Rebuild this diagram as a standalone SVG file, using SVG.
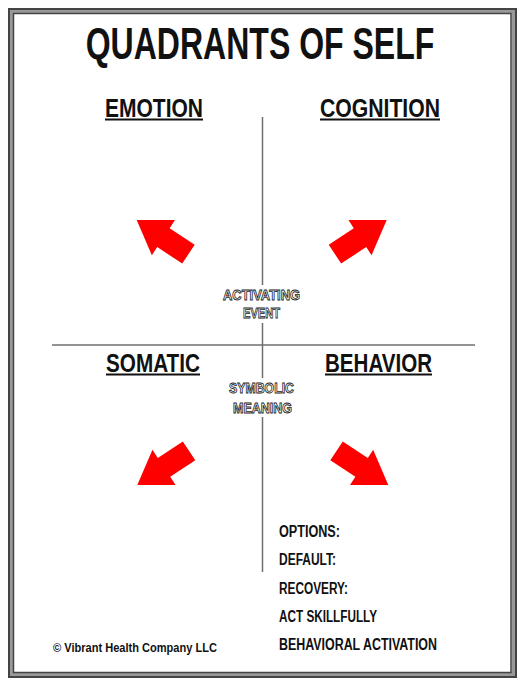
<svg xmlns="http://www.w3.org/2000/svg" width="524" height="685" viewBox="0 0 524 685">
<style>
.t{font-family:"Liberation Sans",Arial,sans-serif;font-weight:bold;fill:#111}
.h{font-size:26px}
.u{stroke:#111;stroke-width:2}
.hol{font-family:"Liberation Sans",Arial,sans-serif;font-weight:bold;font-size:15px;fill:#fff;stroke:#222;stroke-width:0.9}
.ln{stroke:#6f6f6f;stroke-width:1.5;fill:none}
.b{font-size:16px}
.arr{fill:#ff0000}
</style>
<defs>
<polygon id="arrow" points="0,0 -32,-21 -32,-11.3 -62,-11.3 -62,11.3 -32,11.3 -32,21"/>
</defs>
<rect width="524" height="685" fill="#fff"/>
<g id="frame">
<rect x="11" y="11" width="503" height="664" fill="none" stroke="#999" stroke-width="5"/>
<rect x="9" y="9" width="507" height="668" fill="none" stroke="#444" stroke-width="2"/>
<rect x="13.5" y="13.5" width="497.5" height="659" fill="none" stroke="#444" stroke-width="1.5"/>
</g>
<g id="title"><text class="t" transform="translate(260,59) scale(0.728,1)" x="0" y="0" font-size="44" text-anchor="middle">QUADRANTS OF SELF</text></g>
<g id="connectors">
<line class="ln" x1="52" y1="345" x2="475" y2="345"/>
<line class="ln" x1="262.5" y1="117" x2="262.5" y2="285"/>
<line class="ln" x1="262.5" y1="323" x2="262.5" y2="378"/>
<line class="ln" x1="262.5" y1="417" x2="262.5" y2="572"/>
</g>
<g id="emotion">
<text class="t h" x="105" y="117" textLength="98" lengthAdjust="spacingAndGlyphs">EMOTION</text>
<line class="u" x1="105" y1="119.5" x2="203" y2="119.5"/>
</g>
<g id="cognition">
<text class="t h" x="320" y="117" textLength="120" lengthAdjust="spacingAndGlyphs">COGNITION</text>
<line class="u" x1="320" y1="119.5" x2="440" y2="119.5"/>
</g>
<g id="somatic">
<text class="t h" x="106" y="372" textLength="94" lengthAdjust="spacingAndGlyphs">SOMATIC</text>
<line class="u" x1="106" y1="374.5" x2="200" y2="374.5"/>
</g>
<g id="behavior">
<text class="t h" x="325" y="372" textLength="107" lengthAdjust="spacingAndGlyphs">BEHAVIOR</text>
<line class="u" x1="325" y1="374.5" x2="432" y2="374.5"/>
</g>
<g id="activating-event">
<text class="hol" x="223" y="300" textLength="77" lengthAdjust="spacingAndGlyphs">ACTIVATING</text>
<text class="hol" x="243" y="318" textLength="37" lengthAdjust="spacingAndGlyphs">EVENT</text>
</g>
<g id="symbolic-meaning">
<text class="hol" x="229" y="393" textLength="65" lengthAdjust="spacingAndGlyphs">SYMBOLIC</text>
<text class="hol" x="233" y="413" textLength="59" lengthAdjust="spacingAndGlyphs">MEANING</text>
</g>
<g id="arrows">
<use href="#arrow" class="arr" transform="translate(136.7,220) rotate(213.4)"/>
<use href="#arrow" class="arr" transform="translate(386.7,220) rotate(-33.4)"/>
<use href="#arrow" class="arr" transform="translate(137.3,485) rotate(146.6)"/>
<use href="#arrow" class="arr" transform="translate(388.3,485) rotate(33.4)"/>
</g>
<g id="behavior-list">
<text class="t b" x="279" y="537" textLength="61" lengthAdjust="spacingAndGlyphs">OPTIONS:</text>
<text class="t b" x="279" y="565" textLength="57" lengthAdjust="spacingAndGlyphs">DEFAULT:</text>
<text class="t b" x="279" y="593.5" textLength="69" lengthAdjust="spacingAndGlyphs">RECOVERY:</text>
<text class="t b" x="279" y="622" textLength="98" lengthAdjust="spacingAndGlyphs">ACT SKILLFULLY</text>
<text class="t b" x="279" y="650" textLength="158" lengthAdjust="spacingAndGlyphs">BEHAVIORAL ACTIVATION</text>
</g>
<g id="copyright">
<text class="t" x="53" y="652" font-size="13.5" textLength="164" lengthAdjust="spacingAndGlyphs">© Vibrant Health Company LLC</text>
</g>
</svg>
